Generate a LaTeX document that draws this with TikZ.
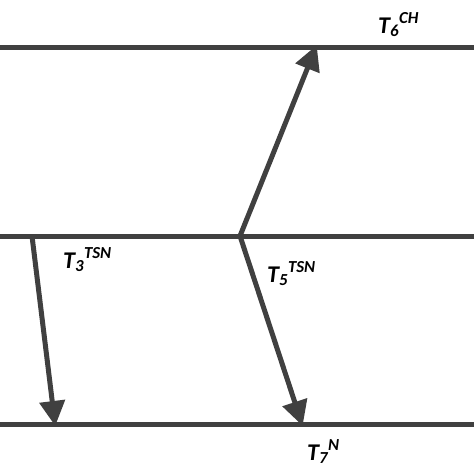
\documentclass[tikz,border=0pt]{standalone}
\usepackage{fontspec}
\setmainfont{Carlito}
\usepackage{xcolor}
\usetikzlibrary{arrows.meta}

\definecolor{lineGrey}{HTML}{404040}

\begin{document}
\begin{tikzpicture}[
    x=1pt, y=-1pt,
    level/.style={draw=lineGrey, line width=5pt},
    msg/.style={draw=lineGrey, line width=5pt, -{Triangle[length=25pt, width=25pt, fill=lineGrey]}, shorten >=-2pt},
    lbl/.style={anchor=base west, inner sep=0pt, font=\fontsize{24}{28}\selectfont\bfseries\itshape, text=black}
]
    \useasboundingbox (0,0) rectangle (474,474);

    % three time levels
    \coordinate (topL) at (0,47);
    \coordinate (topR) at (474,47);
    \coordinate (midL) at (0,236);
    \coordinate (midR) at (474,236);
    \coordinate (botL) at (0,424);
    \coordinate (botR) at (474,424);

    \draw[level] (topL) -- (topR);
    \draw[level] (midL) -- (midR);
    \draw[level] (botL) -- (botR);

    % message points
    \coordinate (s3) at (32,236);
    \coordinate (e3) at (55,424);
    \coordinate (s5) at (240,236);
    \coordinate (e7) at (302,424);
    \coordinate (e6) at (316,47);

    \draw[msg] (s3) -- (e3);
    \draw[msg] (s5) -- (e7);
    \draw[msg] (s5) -- (e6);

    % labels
    \node[lbl] (t6) at (378,33) {T\textsubscript{6}\textsuperscript{CH}};
    \node[lbl] (t3) at (63,268) {T\textsubscript{3}\textsuperscript{TSN}};
    \node[lbl] (t5) at (267,282) {T\textsubscript{5}\textsuperscript{TSN}};
    \node[lbl] (t7) at (307,460) {T\textsubscript{7}\textsuperscript{N}};
\end{tikzpicture}
\end{document}
